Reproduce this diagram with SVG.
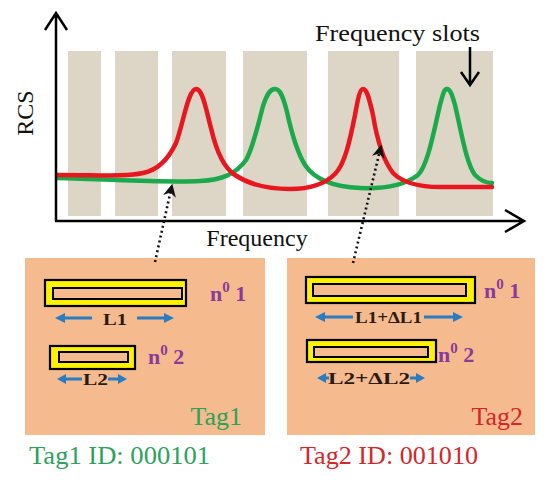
<svg xmlns="http://www.w3.org/2000/svg" width="550" height="480" viewBox="0 0 550 480">
<defs>
<style>
.slot{fill:#DDD6C6}
.axis{stroke:#000;stroke-width:2.5;fill:none}
.curve{fill:none;stroke-width:4.5;stroke-linecap:round;stroke-linejoin:round}
.tagbox{fill:#F5BA8E}
.outer{fill:#FFF200;stroke:#000;stroke-width:2.2}
.inner{fill:#F5BA8E;stroke:#000;stroke-width:2}
.num{font-weight:bold;font-size:22px;fill:#8A3A9C}
.len{font-weight:bold;font-size:16px;fill:#2A1A10}
.blue{stroke:#2A7CC2;stroke-width:3;fill:none}
.bhead{fill:#2A7CC2}
.dots{stroke:#111;stroke-width:2.6;stroke-dasharray:2 3;fill:none}
</style>
<marker id="dh" viewBox="0 0 10 10" refX="9" refY="5" markerWidth="5" markerHeight="5" orient="auto" markerUnits="strokeWidth">
<path d="M0,0 L10,5 L0,10 L3,5 Z" fill="#111"/>
</marker>
</defs>
<rect width="550" height="480" fill="#fff"/>
<g id="slots">
<rect class="slot" x="68" y="51" width="33" height="165"/>
<rect class="slot" x="115" y="51" width="43" height="165"/>
<rect class="slot" x="172" y="51" width="54" height="165"/>
<rect class="slot" x="243" y="51" width="64" height="165"/>
<rect class="slot" x="328" y="51" width="71" height="165"/>
<rect class="slot" x="416" y="51" width="77" height="165"/>
</g>
<g id="curves">
<path class="curve" stroke="#1BA94C" d="M57,178 C110,179 160,183 200,181 C222,180 236,174 246,160 C253,148 258,125 263,106 C267,94 270,89 275,89 C280,89 283,96 287,112 C292,135 297,152 305,165 C315,180 335,187 360,188 C385,189 405,185 418,175 C428,165 434,130 440,105 C443,94 444,89 447,89 C450,89 452,94 455,105 C461,130 466,163 475,175 C482,182 487,183 492,183"/>
<path class="curve" stroke="#E8161E" d="M57,175 C100,175 125,177 143,173 C158,170 168,160 176,143 C183,125 188,89 196,89 C203,89 206,110 211,128 C216,150 224,168 235,175 C250,185 268,189 290,189 C310,189 325,184 335,174 C345,164 350,140 355,115 C358,98 360,89 363,89 C367,89 369,98 373,115 C377,140 383,160 393,173 C403,183 420,187 440,187 L492,187"/>
</g>
<g id="axes">
<path class="axis" d="M56,221 L56,13 M45,30 L56,13 L67,30"/>
<path class="axis" d="M55,221 L524,221 M505,210 L524,221 L505,232"/>
<path class="axis" d="M470,47 L470,84 M461,72 L470,85 L479,72"/>
</g>
<g id="labels-top" font-family="Liberation Serif, serif" font-size="24" fill="#111">
<text x="315" y="41" textLength="165" lengthAdjust="spacingAndGlyphs">Frequency slots</text>
<text x="257" y="246" text-anchor="middle">Frequency</text>
<text transform="translate(33,113) rotate(-90)" text-anchor="middle">RCS</text>
</g>
<g id="tag1" font-family="Liberation Serif, serif">
<rect class="tagbox" x="25" y="258" width="240" height="177"/>
<rect class="outer" x="45" y="280" width="141" height="26"/>
<rect class="inner" x="53" y="288" width="129" height="11"/>
<text class="num" x="210" y="301">n<tspan font-size="15" dy="-9">0</tspan><tspan dy="9"> 1</tspan></text>
<path class="blue" d="M92,318 L63,318 M137,318 L166,318"/>
<path class="bhead" d="M55,318 L65,313 L65,323 Z M174,318 L164,313 L164,323 Z"/>
<text class="len" x="103" y="325" textLength="24" lengthAdjust="spacingAndGlyphs">L1</text>
<rect class="outer" x="50" y="346" width="85" height="23"/>
<rect class="inner" x="59" y="352" width="69" height="10"/>
<text class="num" x="148" y="364">n<tspan font-size="15" dy="-9">0</tspan><tspan dy="9"> 2</tspan></text>
<path class="blue" d="M82,379 L64,379 M108,379 L119,379"/>
<path class="bhead" d="M57,379 L66,374 L66,384 Z M127,379 L118,374 L118,384 Z"/>
<text class="len" x="83" y="385" textLength="25" lengthAdjust="spacingAndGlyphs">L2</text>
<text x="242" y="425" font-size="26" fill="#2CA25C" text-anchor="end">Tag1</text>
</g>
<g id="tag2" font-family="Liberation Serif, serif">
<rect class="tagbox" x="287" y="258" width="248" height="177"/>
<rect class="outer" x="306" y="277" width="169" height="26"/>
<rect class="inner" x="313" y="284" width="153" height="12"/>
<text class="num" x="484" y="298">n<tspan font-size="15" dy="-9">0</tspan><tspan dy="9"> 1</tspan></text>
<path class="blue" d="M353,317 L324,317 M424,317 L454,317"/>
<path class="bhead" d="M315,317 L325,312 L325,322 Z M463,317 L453,312 L453,322 Z"/>
<text class="len" x="355" y="323" textLength="67" lengthAdjust="spacingAndGlyphs">L1+ΔL1</text>
<rect class="outer" x="307" y="340" width="129" height="22"/>
<rect class="inner" x="314" y="347" width="114" height="10"/>
<text class="num" x="438" y="362">n<tspan font-size="15" dy="-9">0</tspan><tspan dy="9"> 2</tspan></text>
<path class="blue" d="M329,378 L324,378 M410,378 L418,378"/>
<path class="bhead" d="M317,378 L326,373 L326,383 Z M425,378 L416,373 L416,383 Z"/>
<text class="len" x="328" y="384" textLength="82" lengthAdjust="spacingAndGlyphs">L2+ΔL2</text>
<text x="523" y="425" font-size="26" fill="#D4262B" text-anchor="end">Tag2</text>
</g>
<g id="ids" font-family="Liberation Serif, serif" font-size="25">
<text x="29" y="464" fill="#2CA25C" textLength="181" lengthAdjust="spacingAndGlyphs">Tag1 ID: 000101</text>
<text x="300" y="464" fill="#D4262B" textLength="178" lengthAdjust="spacingAndGlyphs">Tag2 ID: 001010</text>
</g>
<g id="connectors">
<path class="dots" d="M155,262 L172,185" marker-end="url(#dh)"/>
<path class="dots" d="M353,263 L381,146" marker-end="url(#dh)"/>
</g>
</svg>
